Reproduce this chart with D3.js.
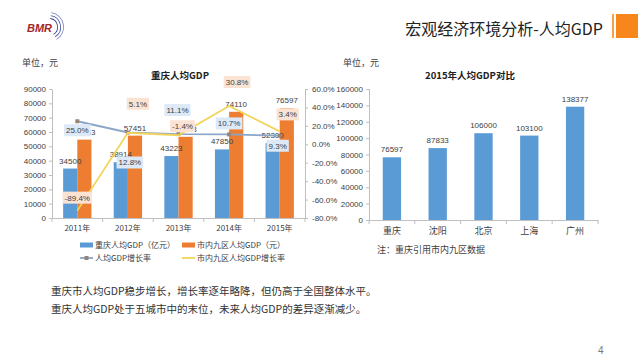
<!DOCTYPE html>
<html><head><meta charset="utf-8">
<script src="https://cdn.jsdelivr.net/npm/d3@7/dist/d3.min.js"></script>
<style>
html,body{margin:0;padding:0;background:#fff;}
svg{display:block;}
text{font-family:"Liberation Sans","Noto Sans CJK SC",sans-serif;}
.cjk{font-family:"Noto Sans CJK SC",sans-serif;}
</style></head>
<body>
<svg id="c" width="640" height="360"></svg>
<script>
// ---------- data ----------
const years = ["2011年","2012年","2013年","2014年","2015年"];
const cqGdp = [34500, 38914, 43223, 47850, 52300];
const nineGdp = [54663, 57451, 56638, 74110, 76597];
const cqGrowth = [25.0, 12.8, 11.1, 10.7, 9.3];
const cqGrowthLabels = ["25.0%","12.8%","11.1%","10.7%","9.3%"];
const nineGrowthPlot = [-72, 12.5, 9.8, 41.5, 14];
const nineGrowthLabels = ["-89.4%","5.1%","-1.4%","30.8%","3.4%"];
const leftTicks = [0,10000,20000,30000,40000,50000,60000,70000,80000,90000];
const rightTicks = [-80,-60,-40,-20,0,20,40,60];

const cities = ["重庆","沈阳","北京","上海","广州"];
const cityGdp = [76597, 87833, 106000, 103100, 138377];
const cityTicks = [0,20000,40000,60000,80000,100000,120000,140000,160000];

const texts = {
  header: "宏观经济环境分析-人均GDP",
  unit: "单位，元",
  leftTitle: "重庆人均GDP",
  rightTitle: "2015年人均GDP对比",
  note: "注：重庆引用市内九区数据",
  legend: ["重庆人均GDP（亿元）","市内九区人均GDP（元）","人均GDP增长率","市内九区人均GDP增长率"],
  body1: "重庆市人均GDP稳步增长，增长率逐年略降，但仍高于全国整体水平。",
  body2: "重庆人均GDP处于五城市中的末位，未来人均GDP的差异逐渐减少。",
  page: "4"
};

const svg = d3.select("#c");
const BLUE = "#5b9bd5", ORANGE = "#ed7d31", LINEBLUE = "#8aa6c8", YEL = "#f2d45c";
const AX = "#bfbfbf", TXT = "#404040";

// ---------- header ----------
svg.append("text").attr("x",27).attr("y",32).attr("font-family","Liberation Serif,serif")
  .attr("font-style","italic").attr("font-weight","bold").attr("font-size",11)
  .attr("fill","#a3262a").text("BMR");
[[9,"#2f3b8f"],[12,"#4a57a8"],[15,"#7a84c4"]].forEach(([r,c],i)=>{
  const cx=49, cy=27;
  const arc=d3.arc().innerRadius(r-0.8).outerRadius(r).startAngle(0.15).endAngle(2.6);
  svg.append("path").attr("d",arc()).attr("transform",`translate(${cx},${cy})`).attr("fill",c);
});
svg.append("text").attr("class","cjk").attr("x",603).attr("y",35).attr("text-anchor","end")
  .attr("font-size",16).attr("fill","#222").text(texts.header);
svg.append("rect").attr("x",612).attr("y",14).attr("width",2).attr("height",24).attr("fill","#f5a04a");
svg.append("rect").attr("x",616).attr("y",14).attr("width",22).attr("height",24).attr("fill","#f7861b");

// ---------- left chart ----------
const L = {l:52, r:305, t:89, b:218};
const x0 = d3.scaleBand().domain(years).range([L.l, L.r]).paddingInner(0.44).paddingOuter(0.22);
const x1 = d3.scaleBand().domain(["cq","nine"]).range([0, x0.bandwidth()]);
const yL = d3.scaleLinear().domain([0,90000]).range([L.b, L.t]);
const yR = d3.scaleLinear().domain([-80,60]).range([L.b, L.t]);
const cxL = d => x0(d) + x0.bandwidth()/2;

svg.append("text").attr("class","cjk").attr("x",22).attr("y",66).attr("font-size",9).attr("fill",TXT).text(texts.unit);
svg.append("text").attr("class","cjk").attr("x",180).attr("y",79).attr("text-anchor","middle")
  .attr("font-size",9.5).attr("font-weight","bold").attr("fill","#222").text(texts.leftTitle);

const gl = svg.append("g");
// left axis
const la = gl.append("g").attr("transform",`translate(${L.l},0)`)
  .call(d3.axisLeft(yL).tickValues(leftTicks).tickSize(3).tickPadding(3).tickFormat(d3.format("d")));
// right axis
const ra = gl.append("g").attr("transform",`translate(${L.r},0)`)
  .call(d3.axisRight(yR).tickValues(rightTicks).tickSize(3).tickPadding(4).tickFormat(d=>d.toFixed(1)+"%"));
// bottom axis
const xa = gl.append("g").attr("transform",`translate(0,${L.b})`)
  .call(d3.axisBottom(x0).tickSize(0).tickPadding(7));
const step = x0.step();
years.concat(["end"]).forEach((d,i)=>{
  const xx = L.l + i*step;
  gl.append("line").attr("x1",xx).attr("x2",xx).attr("y1",L.b).attr("y2",L.b+4).attr("stroke",AX);
});
[la,ra,xa].forEach(a=>{
  a.selectAll("path,line").attr("stroke",AX);
  a.selectAll("text").attr("fill",TXT).attr("font-size",8);
});
xa.selectAll("text").attr("class","cjk");

// bars
gl.selectAll(".bcq").data(cqGdp).join("rect")
  .attr("x",(d,i)=>x0(years[i])+x1("cq")).attr("width",x1.bandwidth())
  .attr("y",d=>yL(d)).attr("height",d=>L.b-yL(d)).attr("fill",BLUE);
gl.selectAll(".bn").data(nineGdp).join("rect")
  .attr("x",(d,i)=>x0(years[i])+x1("nine")).attr("width",x1.bandwidth())
  .attr("y",d=>yL(d)).attr("height",d=>L.b-yL(d)).attr("fill",ORANGE);

// bar labels
const barLab = (vals,key)=>vals.forEach((v,i)=>{
  gl.append("text").attr("x",x0(years[i])+x1(key)+x1.bandwidth()/2).attr("y",yL(v)-5)
    .attr("text-anchor","middle").attr("font-size",8).attr("fill",TXT).text(v);
});
barLab(cqGdp,"cq");
barLab(nineGdp,"nine");

// lines
const lineCq = d3.line().x((d,i)=>cxL(years[i])).y(d=>yR(d));
gl.append("path").datum(cqGrowth).attr("d",lineCq).attr("fill","none").attr("stroke",LINEBLUE).attr("stroke-width",1.8);
gl.selectAll(".mk").data(cqGrowth).join("rect")
  .attr("x",(d,i)=>cxL(years[i])-2).attr("y",d=>yR(d)-2).attr("width",4).attr("height",4).attr("fill","#9a8478");
gl.append("path").datum(nineGrowthPlot).attr("d",lineCq).attr("fill","none").attr("stroke",YEL).attr("stroke-width",1.8);

// line labels with boxes
function boxLabel(cx, cy, txt, bg){
  const g = gl.append("g");
  const t = g.append("text").attr("x",cx).attr("y",cy+3).attr("text-anchor","middle")
    .attr("font-size",8).attr("fill",TXT).text(txt);
  const bb = t.node().getBBox();
  g.insert("rect","text").attr("x",bb.x-2).attr("y",cy-6).attr("width",bb.width+4).attr("height",12).attr("fill",bg);
}
const cqOff = [[0,9],[2,30],[-1,-24],[0,-11],[-2,10]];
cqGrowth.forEach((v,i)=>boxLabel(cxL(years[i])+cqOff[i][0], yR(v)+cqOff[i][1], cqGrowthLabels[i], "#dde9f6"));
const nOff = [[0,-13],[10,-29],[4,-9],[8,-24],[8,-17]];
nineGrowthPlot.forEach((v,i)=>boxLabel(cxL(years[i])+nOff[i][0], yR(v)+nOff[i][1], nineGrowthLabels[i], "#fbe3d4"));

// legend
const lg = svg.append("g").attr("font-size",8);
const legItems = [
  {x:80,y:245,type:"bar",c:BLUE},{x:182,y:245,type:"bar",c:ORANGE},
  {x:80,y:258,type:"mk",c:LINEBLUE},{x:182,y:258,type:"line",c:YEL}];
legItems.forEach((it,i)=>{
  if(it.type==="bar") lg.append("rect").attr("x",it.x).attr("y",it.y-2.5).attr("width",13).attr("height",5).attr("fill",it.c);
  else {
    lg.append("line").attr("x1",it.x).attr("x2",it.x+13).attr("y1",it.y).attr("y2",it.y).attr("stroke",it.c).attr("stroke-width",1.8);
    if(it.type==="mk") lg.append("rect").attr("x",it.x+4.5).attr("y",it.y-2).attr("width",4).attr("height",4).attr("fill","#9a8478");
  }
  lg.append("text").attr("class","cjk").attr("x",it.x+15).attr("y",it.y+3).attr("fill",TXT).text(texts.legend[i]);
});

// ---------- right chart ----------
const R = {l:369, r:598, t:89, b:220};
const xc = d3.scaleBand().domain(cities).range([R.l,R.r]).paddingInner(0.6).paddingOuter(0.3);
const yc = d3.scaleLinear().domain([0,160000]).range([R.b,R.t]);
svg.append("text").attr("class","cjk").attr("x",343).attr("y",66).attr("font-size",9).attr("fill",TXT).text(texts.unit);
svg.append("text").attr("class","cjk").attr("x",470).attr("y",79).attr("text-anchor","middle")
  .attr("font-size",9.5).attr("font-weight","bold").attr("fill","#222").text(texts.rightTitle);
const gr = svg.append("g");
const ca = gr.append("g").attr("transform",`translate(${R.l},0)`)
  .call(d3.axisLeft(yc).tickValues(cityTicks).tickSize(3).tickPadding(3).tickFormat(d3.format("d")));
const cb = gr.append("g").attr("transform",`translate(0,${R.b})`)
  .call(d3.axisBottom(xc).tickSize(0).tickPadding(8));
const cstep = (R.r-R.l)/cities.length;
cities.concat(["end"]).forEach((d,i)=>{
  const xx = R.l + i*cstep;
  gr.append("line").attr("x1",xx).attr("x2",xx).attr("y1",R.b).attr("y2",R.b+4).attr("stroke",AX);
});
[ca,cb].forEach(a=>{
  a.selectAll("path,line").attr("stroke",AX);
  a.selectAll("text").attr("fill",TXT).attr("font-size",8);
});
cb.selectAll("text").attr("class","cjk").attr("font-size",9);
gr.selectAll(".cbar").data(cityGdp).join("rect")
  .attr("x",(d,i)=>xc(cities[i])).attr("width",xc.bandwidth())
  .attr("y",d=>yc(d)).attr("height",d=>R.b-yc(d)).attr("fill",BLUE);
cityGdp.forEach((v,i)=>{
  gr.append("text").attr("x",xc(cities[i])+xc.bandwidth()/2).attr("y",yc(v)-5)
    .attr("text-anchor","middle").attr("font-size",8).attr("fill",TXT).text(v);
});
svg.append("text").attr("class","cjk").attr("x",377).attr("y",253).attr("font-size",9).attr("fill",TXT).text(texts.note);

// ---------- body text ----------
svg.append("text").attr("class","cjk").attr("x",51).attr("y",295).attr("font-size",10.5).attr("fill","#333").text(texts.body1);
svg.append("text").attr("class","cjk").attr("x",51).attr("y",313).attr("font-size",10.5).attr("fill","#333").text(texts.body2);
svg.append("text").attr("x",598).attr("y",354).attr("font-family","Liberation Serif,serif").attr("font-size",10).attr("fill","#777").text(texts.page);
</script>
</body></html>
